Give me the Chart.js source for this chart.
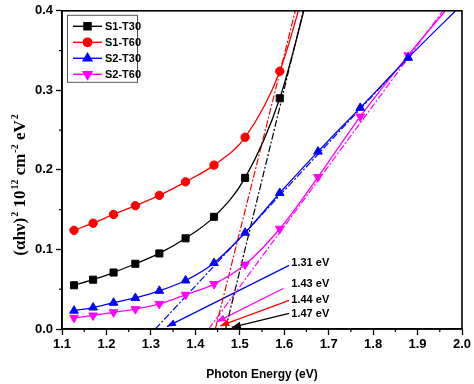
<!DOCTYPE html>
<html><head><meta charset="utf-8">
<script src="https://cdn.jsdelivr.net/npm/chart.js@4.4.0/dist/chart.umd.min.js"></script>
<style>html,body{margin:0;padding:0;background:#fff}</style>
</head><body>
<canvas id="c" width="474" height="384"></canvas>
<script>
// ---- data ----
const energy = [1.127, 1.170, 1.216, 1.265, 1.319, 1.378, 1.442, 1.512, 1.590, 1.676, 1.771, 1.879, 2.000];
const s1t30 = [0.055, 0.062, 0.071, 0.082, 0.095, 0.114, 0.141, 0.190, 0.290, 0.470];
const s1t60 = [0.124, 0.133, 0.144, 0.155, 0.168, 0.185, 0.206, 0.241, 0.324, 0.490];
const s2t30 = [0.023, 0.027, 0.033, 0.039, 0.048, 0.061, 0.083, 0.121, 0.171, 0.223, 0.278, 0.341, 0.408];
const s2t60 = [0.014, 0.017, 0.021, 0.025, 0.0315, 0.043, 0.0565, 0.081, 0.126, 0.191, 0.267, 0.344, 0.425];
const seriesLabels = ['S1-T30', 'S1-T60', 'S2-T30', 'S2-T60'];
const seriesColors = ['#000000', '#ff0000', '#0000ff', '#ff00ff'];
// tangent (Tauc) fit lines: [x0, y0, x1, y1]
const fitBlack = [1.468, 0, 1.643, 0.4];
const fitRed = [1.445, 0, 1.625, 0.4];
const fitBlue = [1.310, 0, 1.840, 0.318];
const fitMagenta = [1.430, 0, 1.957, 0.4];
// annotation arrows: [xText, yText, xHead, yHead]
const gapLabels = ['1.31 eV', '1.43 eV', '1.44 eV', '1.47 eV'];
const arrowBlue = [1.611, 0.080, 1.336, 0.003];
const arrowMagenta = [1.598, 0.051, 1.448, 0.009];
const arrowRed = [1.611, 0.036, 1.456, 0.004];
const arrowBlack = [1.611, 0.0196, 1.482, 0.002];
const gapLabelY = [0.0826, 0.057, 0.036, 0.0183];
const gapLabelX = 1.616;
const xTickLabels = ['1.1','1.2','1.3','1.4','1.5','1.6','1.7','1.8','1.9','2.0'];
const yTickLabels = ['0.0','0.1','0.2','0.3','0.4'];

const X_MIN = 1.1, X_MAX = 2.0, Y_MIN = 0, Y_MAX = 0.4;

function pts(vals){ return vals.map((v,i)=>({x:energy[i], y:v})); }
function seg(a){ return [{x:a[0], y:a[1]}, {x:a[2], y:a[3]}]; }

const seriesData = [s1t30, s1t60, s2t30, s2t60];
const pointStyles = ['rect', 'circle', 'triangle', 'triangle'];
const pointRot = [0, 0, 0, 180];
const pointRad = [5, 4.2, 5, 5];

const datasets = [];
seriesData.forEach((vals, k) => {
  datasets.push({
    label: seriesLabels[k],
    data: pts(vals),
    borderColor: seriesColors[k],
    backgroundColor: seriesColors[k],
    borderWidth: 1.3,
    pointStyle: pointStyles[k],
    rotation: pointRot[k],
    pointRadius: ctx => (ctx.raw && ctx.raw.y > Y_MAX) ? 0 : pointRad[k],
    pointBorderWidth: 1,
    cubicInterpolationMode: 'monotone',
    fill: false
  });
});
const fits = [fitBlack, fitRed, fitBlue, fitMagenta];
const fitColors = ['#000000', '#ff0000', '#0000ff', '#ff00ff'];
fits.forEach((f, k) => datasets.push({
  label: 'fit' + k, data: seg(f), borderColor: fitColors[k], borderWidth: 1.2,
  borderDash: [7, 2, 2, 2], pointRadius: 0, fill: false
}));
const arrows = [arrowBlue, arrowMagenta, arrowRed, arrowBlack];
const arrowColors = ['#0000ff', '#ff00ff', '#ff0000', '#000000'];
arrows.forEach((a, k) => datasets.push({
  label: 'arrow' + k, data: seg(a), borderColor: arrowColors[k], borderWidth: 1.2,
  pointRadius: 0, fill: false
}));

const decor = {
  id: 'decor',
  afterDatasetsDraw(chart) {
    const {ctx, chartArea: a, scales: {x, y}} = chart;
    ctx.save();
    const line = (x0,y0,x1,y1) => { ctx.beginPath(); ctx.moveTo(x0,y0); ctx.lineTo(x1,y1); ctx.stroke(); };
    // frame
    ctx.strokeStyle = '#000'; ctx.lineWidth = 1.6;
    ctx.strokeRect(a.left, a.top, a.right - a.left, a.bottom - a.top);
    // minor ticks
    ctx.lineWidth = 1.2;
    for (let i = 0; i < xTickLabels.length - 1; i++) {
      const px = x.getPixelForValue(X_MIN + 0.1 * i + 0.05);
      line(px, a.bottom, px, a.bottom + 3);
    }
    for (let i = 0; i < yTickLabels.length - 1; i++) {
      const py = y.getPixelForValue(0.1 * i + 0.05);
      line(a.left - 3, py, a.left, py);
    }
    // arrowheads
    arrows.forEach((ar, k) => {
      const x0 = x.getPixelForValue(ar[0]), y0 = y.getPixelForValue(ar[1]);
      const x1 = x.getPixelForValue(ar[2]), y1 = y.getPixelForValue(ar[3]);
      const ang = Math.atan2(y1 - y0, x1 - x0);
      const L = 9, W = 3.5;
      ctx.fillStyle = arrowColors[k];
      ctx.beginPath();
      ctx.moveTo(x1, y1);
      ctx.lineTo(x1 - L*Math.cos(ang) + W*Math.sin(ang), y1 - L*Math.sin(ang) - W*Math.cos(ang));
      ctx.lineTo(x1 - L*Math.cos(ang) - W*Math.sin(ang), y1 - L*Math.sin(ang) + W*Math.cos(ang));
      ctx.closePath(); ctx.fill();
    });
    // gap labels
    ctx.fillStyle = '#000';
    ctx.font = 'bold 11px "Liberation Sans", Arial, sans-serif';
    ctx.textAlign = 'left'; ctx.textBaseline = 'middle';
    gapLabels.forEach((t, k) => ctx.fillText(t, x.getPixelForValue(gapLabelX), y.getPixelForValue(gapLabelY[k])));
    // legend
    const lx = a.left + 5, ly = a.top + 4, lw = 70, lh = 67;
    ctx.fillStyle = '#fff'; ctx.fillRect(lx, ly, lw, lh);
    ctx.strokeStyle = '#555'; ctx.lineWidth = 1;
    ctx.strokeRect(lx + 0.5, ly + 0.5, lw, lh);
    seriesLabels.forEach((lab, k) => {
      const ey = ly + 11.5 + k * 16;
      ctx.strokeStyle = seriesColors[k]; ctx.lineWidth = 1.4;
      line(lx + 6, ey, lx + 35, ey);
      Chart.helpers.drawPoint(ctx, {pointStyle: pointStyles[k], rotation: pointRot[k], radius: pointRad[k], borderWidth: 1}, lx + 20.5, ey);
      ctx.fillStyle = seriesColors[k];
      ctx.fill();
      ctx.fillStyle = '#000';
      ctx.font = 'bold 11px "Liberation Sans", Arial, sans-serif';
      ctx.textAlign = 'left'; ctx.textBaseline = 'middle';
      ctx.fillText(lab, lx + 38, ey + 0.5);
    });
    // x title
    ctx.fillStyle = '#000';
    ctx.font = 'bold 12px "Liberation Sans", Arial, sans-serif';
    ctx.textAlign = 'center'; ctx.textBaseline = 'middle';
    ctx.fillText('Photon Energy (eV)', 262, 375);
    // y title with superscripts
    const parts = [['(\u03b1h\u03bd)', 0], ['2', 1], [' 10', 0], ['12', 1], [' cm', 0], ['-2', 1], [' eV', 0], ['2', 1]];
    const fMain = 'bold 17px "Liberation Serif", "Times New Roman", serif';
    const fSup = 'bold 10px "Liberation Serif", "Times New Roman", serif';
    let total = 0;
    parts.forEach(p => { ctx.font = p[1] ? fSup : fMain; total += ctx.measureText(p[0]).width + (p[1] ? 1 : 0); });
    ctx.translate(20, 185); ctx.rotate(-Math.PI / 2);
    ctx.textAlign = 'left'; ctx.textBaseline = 'alphabetic';
    let cx = -total / 2;
    parts.forEach(p => {
      ctx.font = p[1] ? fSup : fMain;
      ctx.fillText(p[0], cx + (p[1] ? 1 : 0), p[1] ? -2 : 5);
      cx += ctx.measureText(p[0]).width + (p[1] ? 1 : 0);
    });
    ctx.restore();
  }
};

const tickFont = {family: '"Liberation Sans", Arial, sans-serif', size: 13, weight: 'bold'};
new Chart(document.getElementById('c'), {
  type: 'line',
  data: {datasets},
  options: {
    responsive: false, animation: false, devicePixelRatio: 1,
    layout: {padding: {left: 0, right: 12, top: 8, bottom: 0}},
    plugins: {legend: {display: false}, tooltip: {enabled: false}},
    scales: {
      x: {
        type: 'linear', min: X_MIN, max: X_MAX,
        afterFit: s => { s.height = 55; },
        ticks: {stepSize: 0.1, font: tickFont, color: '#000', padding: 2,
          callback: (v, i) => xTickLabels[i]},
        grid: {drawOnChartArea: false, drawTicks: true, tickLength: 6, tickColor: '#000', tickWidth: 1.3},
        border: {display: true, color: '#000', width: 1.6}
      },
      y: {
        type: 'linear', min: Y_MIN, max: Y_MAX,
        afterFit: s => { s.width = 62; },
        ticks: {stepSize: 0.1, font: tickFont, color: '#000', padding: 3,
          callback: (v, i) => yTickLabels[i]},
        grid: {drawOnChartArea: false, drawTicks: true, tickLength: 6, tickColor: '#000', tickWidth: 1.3},
        border: {display: true, color: '#000', width: 1.6}
      }
    }
  },
  plugins: [decor]
});
</script>
</body></html>
